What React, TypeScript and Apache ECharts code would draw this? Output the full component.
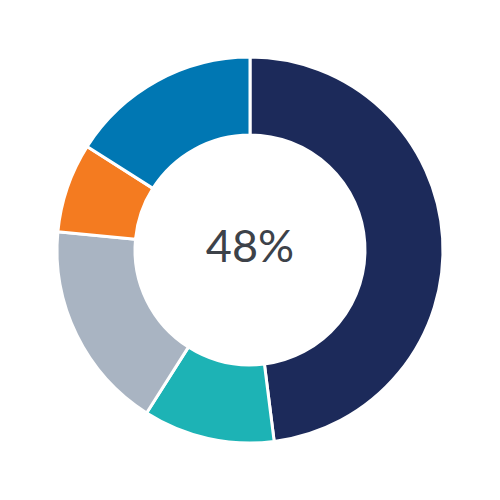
import React, { useEffect, useRef } from "react";
import * as echarts from "echarts";

const categories = ["Navy", "Teal", "Gray", "Orange", "Blue"];
const values = [48, 11, 17.5, 7.5, 16];
const colors = ["#1c2a5a", "#1db3b5", "#a9b4c2", "#f47b20", "#0077b3"];
const centerLabel = "48%";

export default function App() {
  const ref = useRef<HTMLDivElement>(null);
  useEffect(() => {
    if (!ref.current) return;
    const chart = echarts.init(ref.current, undefined, { renderer: "svg" });
    chart.setOption({
      animation: false,
      backgroundColor: "#ffffff",
      graphic: [
        {
          type: "text",
          left: "center",
          top: 222,
          style: {
            text: centerLabel,
            fontFamily: "Lato",
            fontWeight: 400,
            fontSize: 45,
            fill: "#3d4249",
          },
        },
      ],
      series: [
        {
          type: "pie",
          center: ["50%", "50%"],
          radius: [115, 193],
          startAngle: 90,
          clockwise: true,
          label: { show: false },
          labelLine: { show: false },
          emphasis: { disabled: true },
          itemStyle: { borderColor: "#ffffff", borderWidth: 3 },
          data: categories.map((name, i) => ({
            name,
            value: values[i],
            itemStyle: { color: colors[i] },
          })),
        },
      ],
    });
    return () => chart.dispose();
  }, []);
  return (
    <div
      ref={ref}
      style={{ position: "absolute", left: 0, top: 0, width: 500, height: 500 }}
    />
  );
}
